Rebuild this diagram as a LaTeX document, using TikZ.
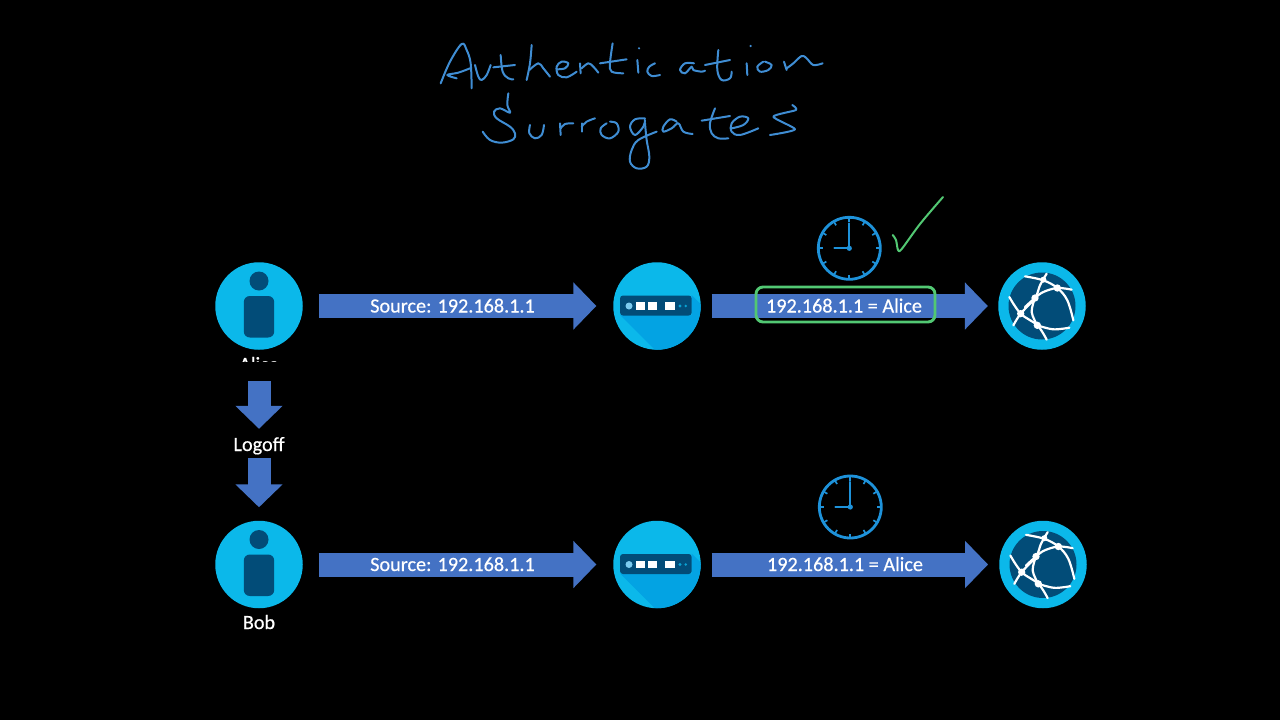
\documentclass[tikz,border=0pt]{standalone}
\usepackage{fontspec}
\setmainfont{Carlito}
\newfontfamily\labelfont{Carlito}[FakeBold=0.5]
\usetikzlibrary{arrows.meta}
\definecolor{cyanfill}{HTML}{0BB8EA}
\definecolor{cyanshade}{HTML}{03A3E3}
\definecolor{navy}{HTML}{024C78}
\definecolor{blockblue}{HTML}{4472C4}
\definecolor{clockblue}{HTML}{1E92DA}
\definecolor{inkblue}{HTML}{3F8DD3}
\definecolor{okgreen}{HTML}{52C873}
\definecolor{lampblue}{HTML}{7CCBEF}
\tikzset{
  disc/.style={circle,fill=cyanfill,minimum size=87.5pt,inner sep=0pt},
  blockarrow/.style={draw=blockblue,line width=24pt,-{Triangle[length=23pt,width=46pt]},blockblue},
  downarrow/.style={draw=blockblue,line width=23pt,-{Triangle[length=23pt,width=46pt]},blockblue},
  lbl/.style={text=white,inner sep=0pt,font=\labelfont\fontsize{20.2}{23}\selectfont},
  hand/.style={draw=inkblue,line width=2pt,line cap=round,line join=round},
  person/.pic={
    \fill[navy] (0,-25) circle (9.5);
    \fill[navy,rounded corners=6pt] (-15.2,-10) rectangle (15.2,31.5);
  },
  switchbox/.pic={
    \begin{scope}
      \clip (0,0) circle (43.7);
      \fill[cyanshade] (-37,9) -- (34.7,9) -- (34.7,-11) -- (104,59) -- (33,79) -- cycle;
    \end{scope}
    \fill[navy,rounded corners=3pt] (-37,-10.5) rectangle (34.7,9.5);
    \fill[lampblue] (-28,0) circle (3.5);
    \fill[white] (-21.3,-3.8) rectangle (-12,3.6);
    \fill[white] (-9,-3.8) rectangle (0.3,3.6);
    \fill[white] (8.3,-3.8) rectangle (17.7,3.6);
    \fill[cyanfill!80!navy] (23,0) circle (1.6);
    \fill[cyanfill!80!navy] (28.7,0) circle (1.3);
  },
  globe/.pic={
    \fill[navy] (0,0) circle (33.5);
    \begin{scope}[x=.3333pt,y=-.3333pt,shift={(-186,-167)},line width=2.2pt,white,line cap=round]
      \draw plot[smooth,tension=.6] coordinates {(135,78) (190,90) (232,113) (262,150) (280,210)};
      \draw plot[smooth,tension=.6] coordinates {(200,70) (180,105) (165,143) (122,190) (100,225)};
      \draw plot[smooth,tension=.6] coordinates {(88,140) (122,190) (172,225) (200,268)};
      \draw plot[smooth,tension=.6] coordinates {(275,118) (232,113) (190,125) (165,143) (135,170)};
      \draw plot[smooth,tension=.6] coordinates {(172,225) (220,237) (268,232)};
      \draw plot[smooth,tension=.6] coordinates {(165,143) (155,185) (172,225)};
      \fill (122,190) circle (11);
      \fill (165,143) circle (11);
      \fill (232,113) circle (11);
      \fill (172,225) circle (11);
      \fill (190,88) circle (9);
    \end{scope}
  },
  clockface/.pic={
    \draw[clockblue,line width=2.8pt] (0,0) circle (31);
    \foreach \a in {0,30,...,330}{
      \draw[clockblue,line width=1.7pt] (\a:31) -- (\a:26.5);
    }
    \draw[clockblue,line width=2.1pt,line cap=round] (-15,0) -- (0,0) -- (0,-25);
    \fill[clockblue] (0,0) circle (2.6);
  }
}
\begin{document}
\begin{tikzpicture}[x=1pt,y=-1pt]
\useasboundingbox (0,0) rectangle (1280,720);
\fill[black] (0,0) rectangle (1280,720);

% title, first line
\begin{scope}[shift={(430,30)},x=.3333pt,y=-.3333pt]
  \draw[hand] plot[smooth,tension=.6] coordinates {(32,160) (60,95) (95,42) (110,60) (122,100) (125,175)};
  \draw[hand] plot[smooth,tension=.6] coordinates {(80,145) (52,135) (85,128) (120,115)};
  \draw[hand] plot[smooth,tension=.6] coordinates {(135,105) (145,140) (155,150) (170,135) (182,105)};
  \draw[hand] plot[smooth,tension=.6] coordinates {(212,75) (218,125) (235,145) (250,148)};
  \draw[hand] plot[smooth,tension=.6] coordinates {(190,112) (255,105)};
  \draw[hand] plot[smooth,tension=.6] coordinates {(305,45) (300,100) (290,150)};
  \draw[hand] plot[smooth,tension=.6] coordinates {(298,120) (325,100) (340,115) (360,140)};
  \draw[hand] plot[smooth,tension=.6] coordinates {(380,118) (405,115) (415,100) (395,95) (380,110) (385,135) (410,142) (440,125)};
  \draw[hand] plot[smooth,tension=.6] coordinates {(450,100) (452,130)};
  \draw[hand] plot[smooth,tension=.6] coordinates {(455,115) (475,100) (490,110) (505,128)};
  \draw[hand] plot[smooth,tension=.6] coordinates {(548,40) (540,100) (545,125) (580,130)};
  \draw[hand] plot[smooth,tension=.6] coordinates {(510,100) (590,88)};
\end{scope}
\begin{scope}[shift={(630,30)},x=.3333pt,y=-.3333pt]
  \draw[hand] (22,90) -- (25,128);
  \fill[inkblue] (27,55) circle (3.5);
  \draw[hand] plot[smooth,tension=.6] coordinates {(75,100) (58,110) (52,125) (65,138) (90,135)};
  \draw[hand] plot[smooth,tension=.6] coordinates {(192,100) (165,100) (150,120) (165,130) (185,110) (190,120) (215,125) (225,122)};
  \draw[hand] plot[smooth,tension=.6] coordinates {(265,60) (262,120) (275,150) (300,145) (305,125)};
  \draw[hand] plot[smooth,tension=.6] coordinates {(225,105) (300,90)};
  \draw[hand] (350,100) -- (352,135);
  \fill[inkblue] (362,48) circle (3.5);
  \draw[hand] plot[smooth,tension=.6] coordinates {(400,95) (382,110) (390,125) (415,120) (425,105) (405,95)};
  \draw[hand] plot[smooth,tension=.6] coordinates {(462,95) (470,120)};
  \draw[hand] plot[smooth,tension=.6] coordinates {(470,115) (490,100) (515,78) (530,85) (550,105) (578,100)};
\end{scope}
% title, second line
\begin{scope}[shift={(470,90)},x=.3333pt,y=-.3333pt]
  \draw[hand] plot[smooth,tension=.6] coordinates {(115,10) (112,45) (120,68) (90,55) (72,65) (80,85) (120,110) (135,130) (130,148) (95,158) (60,150) (38,125)};
  \draw[hand] plot[smooth,tension=.6] coordinates {(180,105) (178,130) (195,145) (215,135) (222,105)};
  \draw[hand] (270,100) -- (272,135);
  \draw[hand] plot[smooth,tension=.6] coordinates {(272,115) (285,102) (310,100)};
  \draw[hand] (335,100) -- (335,125);
  \draw[hand] plot[smooth,tension=.6] coordinates {(335,110) (350,95) (375,85)};
  \draw[hand] plot[smooth,tension=.6] coordinates {(410,100) (392,115) (395,135) (420,145) (445,125) (440,100) (420,95)};
\end{scope}
\begin{scope}[shift={(630,90)},x=.3333pt,y=-.3333pt]
  \draw[hand] plot[smooth,tension=.6] coordinates {(45,85) (15,88) (0,110) (15,135) (40,110) (45,90)};
  \draw[hand] plot[smooth,tension=.6] coordinates {(45,100) (50,150) (58,200) (50,230) (20,235) (0,215) (5,180) (25,150) (80,125)};
  \draw[hand] plot[smooth,tension=.6] coordinates {(140,95) (120,88) (100,110) (100,125) (125,115) (145,100) (160,125) (188,132)};
  \draw[hand] plot[smooth,tension=.6] coordinates {(255,55) (240,100) (245,130) (265,145) (295,145)};
  \draw[hand] plot[smooth,tension=.6] coordinates {(215,92) (300,78)};
  \draw[hand] plot[smooth,tension=.6] coordinates {(305,115) (340,105) (355,85) (330,80) (305,100) (305,125) (330,135) (385,115)};
  \draw[hand] plot[smooth,tension=.4] coordinates {(487,45) (498,60) (430,80) (495,118) (420,135)};
\end{scope}

% round icons
\node[disc] (alice) at (259,306) {};
\node[disc] (sw1) at (657,306) {};
\node[disc] (net1) at (1042,306) {};
\node[disc] (bob) at (259,564.5) {};
\node[disc] (sw2) at (657,564.5) {};
\node[disc] (net2) at (1043,564.5) {};
\pic at (alice) {person};
\pic at (bob) {person};
\pic at (sw1) {switchbox};
\pic at (sw2) {switchbox};
\pic at (net1) {globe};
\pic at (net2) {globe};

% logoff
\node[lbl,minimum height=28pt,text height=22pt,text depth=6pt] (logoff) at (259,443) {Logoff};

% block arrows
\draw[blockarrow,shorten <=16pt,shorten >=16.7pt] (alice) -- (sw1);
\draw[blockarrow,shorten <=10.7pt,shorten >=10.2pt] (sw1) -- (net1);
\draw[blockarrow,shorten <=16pt,shorten >=16.7pt] (bob) -- (sw2);
\draw[blockarrow,shorten <=10.7pt,shorten >=11pt] (sw2) -- (net2);
\draw[downarrow,shorten <=31.2pt] (alice) -- (logoff);
\draw[downarrow,shorten <=1pt,shorten >=13.3pt] (logoff) -- (bob);

% labels
\begin{scope}
  \clip (200,340) rectangle (320,361.7);
  \node[lbl,anchor=base] (alicelbl) at (259,371) {Alice};
\end{scope}
\node[lbl,anchor=base] (boblbl) at (259,629) {Bob};
\node[lbl,anchor=base] (src1) at (452.5,312.5) {Source: 192.168.1.1};
\node[lbl,anchor=base] (src2) at (452.5,571) {Source: 192.168.1.1};
\node[lbl,anchor=base] (map1) at (844,312.5) {192.168.1.1 = Alice};
\node[lbl,anchor=base] (map2) at (845,571) {192.168.1.1 = Alice};

% highlight, clocks, check
\draw[okgreen,line width=2.9pt,rounded corners=7pt] (756,287) rectangle (935,322);
\pic at (849.3,248.3) {clockface};
\pic at (850.3,507) {clockface};
\draw[okgreen,line width=2pt,line cap=round,line join=round] plot[smooth,tension=.5] coordinates {(892.7,235) (896,240) (898,250) (901.7,249) (920,224) (943,197)};
\end{tikzpicture}
\end{document}
